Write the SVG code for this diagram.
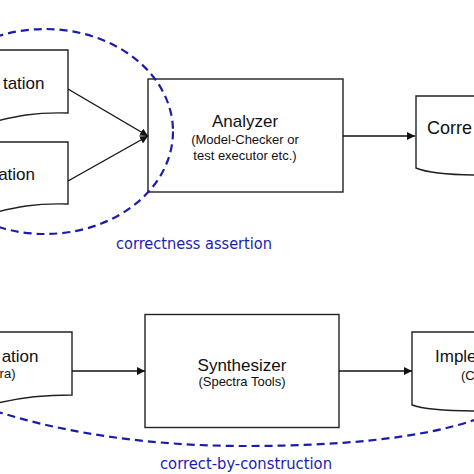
<svg xmlns="http://www.w3.org/2000/svg" width="474" height="474" viewBox="0 0 474 474">
<defs>
<marker id="ah" viewBox="0 0 10 10" refX="10" refY="5" markerWidth="8" markerHeight="8" markerUnits="userSpaceOnUse" orient="auto">
<path d="M0,0 L10,5 L0,10 Z" fill="#111"/>
</marker>
</defs>
<style>
.box{fill:#fff;stroke:#222;stroke-width:1.4}
.t{font-family:"Liberation Sans",Arial,sans-serif;fill:#111}
.big{font-size:17px}
.small{font-size:13px}
.con{stroke:#111;stroke-width:1.4;fill:none;marker-end:url(#ah)}
.dash{fill:none;stroke:#1c1caa;stroke-width:2.2;stroke-dasharray:8,5}
.lbl{font-family:"DejaVu Sans",sans-serif;font-size:15px;fill:#1c1cb4}
</style>
<rect width="474" height="474" fill="#fff"/>
<g id="doc-top1">
<path class="box" d="M-100,50 H68 V113 C35,112 15,116 -10,123 L-100,123 Z"/>
<text class="t big" x="44.5" y="89" text-anchor="end">tation</text>
</g>
<g id="doc-top2">
<path class="box" d="M-100,142 H68 V204 C35,203 15,207 -10,214 L-100,214 Z"/>
<text class="t big" x="35" y="180" text-anchor="end">ation</text>
</g>
<g id="analyzer">
<rect class="box" x="148" y="79" width="195" height="113"/>
<text class="t big" x="245" y="127" text-anchor="middle">Analyzer</text>
<text class="t small" x="245" y="144" text-anchor="middle">(Model-Checker or</text>
<text class="t small" x="245" y="160" text-anchor="middle">test executor etc.)</text>
</g>
<g id="doc-correct">
<path class="box" d="M416,96 H480 V175 C455,175 430,174 416,168 Z"/>
<text class="t" font-size="18" x="427" y="134">Corre</text>
</g>
<g id="doc-bottom-left">
<path class="box" d="M-100,332 H72 V395 C40,395 15,398 -10,405 L-100,405 Z"/>
<text class="t big" x="38.5" y="362" text-anchor="end">ation</text>
<text class="t small" x="15.5" y="378" text-anchor="end">ra)</text>
</g>
<g id="synthesizer">
<rect class="box" x="145" y="314.5" width="194" height="113"/>
<text class="t big" x="242" y="371" text-anchor="middle">Synthesizer</text>
<text class="t small" x="242" y="386" text-anchor="middle">(Spectra Tools)</text>
</g>
<g id="doc-impl">
<path class="box" d="M412,332 H480 V411 C455,411 425,410 412,405 Z"/>
<text class="t big" x="435" y="362">Imple</text>
<text class="t small" x="461" y="380">(C</text>
</g>
<g id="connectors">
<line class="con" x1="68" y1="89" x2="148" y2="136"/>
<line class="con" x1="68" y1="181" x2="148" y2="136"/>
<line class="con" x1="343" y1="136" x2="415" y2="136"/>
<line class="con" x1="72" y1="371" x2="145" y2="371"/>
<line class="con" x1="339" y1="371" x2="412" y2="371"/>
</g>
<g id="regions">
<ellipse class="dash" cx="45" cy="131.5" rx="128" ry="102.5"/>
<path class="dash" d="M-5,411 C80,438 170,446 245,446 C330,446 420,440 480,418"/>
<text class="lbl" x="116" y="249" textLength="156" lengthAdjust="spacingAndGlyphs">correctness assertion</text>
<text class="lbl" x="160" y="469" textLength="172" lengthAdjust="spacingAndGlyphs">correct-by-construction</text>
</g>
</svg>
